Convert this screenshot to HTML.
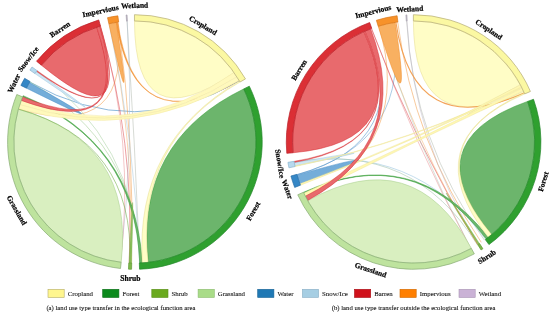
<!DOCTYPE html>
<html><head><meta charset="utf-8"><style>
html,body{margin:0;padding:0;background:#fff;}
body{width:550px;height:314px;overflow:hidden;position:relative;}
svg{position:absolute;left:0;top:0;filter:blur(0.3px);}
.lb{font-family:"Liberation Serif",serif;font-weight:bold;fill:#000;stroke:#000;stroke-width:0.22px;}
.lg{font-family:"Liberation Serif",serif;font-size:6.8px;fill:#111;stroke:#111;stroke-width:0.08px;}
.cap{font-family:"Liberation Serif",serif;font-size:6.7px;fill:#111;stroke:#111;stroke-width:0.08px;}
</style></head><body>
<svg width="550" height="314" viewBox="0 0 550 314">
<path d="M116.18,22.46A121.0,121.0 0 0 1 117.85,22.21Q134.90,142.00 239.10,80.50A121.0,121.0 0 0 1 239.26,80.77Q134.90,142.00 116.18,22.46Z" fill="#F5A04A" fill-opacity="1.0" stroke="#F08A25" stroke-width="0.4"/>
<path d="M29.80,82.05Q134.90,142.00 239.32,80.86" fill="none" stroke="#4A8FC8" stroke-width="0.7" stroke-opacity="0.9"/>
<path d="M118.06,22.18Q134.90,142.00 131.31,262.95" fill="none" stroke="#F08A25" stroke-width="0.5" stroke-opacity="0.9"/>
<path d="M100.13,26.10Q134.90,142.00 129.20,262.87" fill="none" stroke="#D42B31" stroke-width="0.5" stroke-opacity="0.9"/>
<path d="M127.09,21.25Q134.90,142.00 139.76,262.90" fill="none" stroke="#B4BCB0" stroke-width="0.6" stroke-opacity="0.9"/>
<path d="M116.39,22.42Q134.90,142.00 18.47,109.05" fill="none" stroke="#F08A25" stroke-width="0.5" stroke-opacity="0.9"/>
<path d="M36.88,71.05Q134.90,142.00 140.18,262.88" fill="none" stroke="#A8D0A0" stroke-width="0.6" stroke-opacity="0.9"/>
<path d="M29.90,81.87Q134.90,142.00 140.81,262.86" fill="none" stroke="#9FCB90" stroke-width="0.6" stroke-opacity="0.9"/>
<path d="M109.33,23.73Q134.90,142.00 130.26,262.91" fill="none" stroke="#F08A25" stroke-width="0.5" stroke-opacity="0.7"/>
<path d="M100.33,26.04Q134.90,142.00 120.57,262.15" fill="none" stroke="#D42B31" stroke-width="0.45" stroke-opacity="0.6"/>
<path d="M127.20,21.25Q134.90,142.00 120.36,262.12" fill="none" stroke="#A9B8C8" stroke-width="0.5" stroke-opacity="0.9"/>
<path d="M109.12,23.78Q134.90,142.00 139.54,262.91" fill="none" stroke="#9CC0D8" stroke-width="0.5" stroke-opacity="0.9"/>
<path d="M142.29,262.77A121.0,121.0 0 0 1 139.76,262.90Q134.90,142.00 22.67,96.77A121.0,121.0 0 0 1 23.11,95.70Q134.90,142.00 142.29,262.77Z" fill="#6CB56C" fill-opacity="1.0" stroke="#2E9A2E" stroke-width="0.5"/>
<path d="M134.48,21.00A121.0,121.0 0 0 1 234.02,72.60Q134.90,142.00 134.48,21.00Z" fill="#FFFDC6" fill-opacity="1.0" stroke="#E4DA8C" stroke-width="0.5"/>
<path d="M243.65,88.96A121.0,121.0 0 0 1 148.39,262.25Q134.90,142.00 243.65,88.96Z" fill="#6CB56C" fill-opacity="1.0" stroke="#2E9A2E" stroke-width="0.5"/>
<path d="M121.20,262.22A121.0,121.0 0 0 1 18.41,109.26Q134.90,142.00 121.20,262.22Z" fill="#D9EFC0" fill-opacity="1.0" stroke="#A4CC8A" stroke-width="0.5"/>
<path d="M41.40,65.20A121.0,121.0 0 0 1 96.71,27.19Q134.90,142.00 41.40,65.20Z" fill="#E86A6D" fill-opacity="1.0" stroke="#D42B31" stroke-width="0.5"/>
<path d="M26.52,88.20A121.0,121.0 0 0 1 29.48,82.60Q134.90,142.00 26.52,88.20Z" fill="#74ADD9" fill-opacity="1.0" stroke="#4A8FC8" stroke-width="0.5"/>
<path d="M35.06,73.64A121.0,121.0 0 0 1 36.51,71.56Q134.90,142.00 35.06,73.64Z" fill="#CFE6F3" fill-opacity="1.0" stroke="#A2CBE3" stroke-width="0.5"/>
<path d="M108.92,23.82A121.0,121.0 0 0 1 116.18,22.46Q134.90,142.00 108.92,23.82Z" fill="#F8B061" fill-opacity="1.0" stroke="#F08A25" stroke-width="0.5"/>
<path d="M239.48,81.13A121.0,121.0 0 0 1 240.00,82.05Q134.90,142.00 147.97,262.29A121.0,121.0 0 0 1 142.29,262.77Q134.90,142.00 239.48,81.13Z" fill="#FFFDC6" fill-opacity="1.0" stroke="#E4DA8C" stroke-width="0.5"/>
<path d="M234.02,72.60A121.0,121.0 0 0 1 236.84,76.81Q134.90,142.00 19.82,104.61A121.0,121.0 0 0 1 21.27,100.42Q134.90,142.00 234.02,72.60Z" fill="#FFF9BC" fill-opacity="1.0" stroke="#F2E9A6" stroke-width="0.5"/>
<path d="M236.95,76.99A121.0,121.0 0 0 1 239.05,80.41Q134.90,142.00 18.53,108.85A121.0,121.0 0 0 1 19.82,104.61Q134.90,142.00 236.95,76.99Z" fill="#FFF9BC" fill-opacity="1.0" stroke="#F2E9A6" stroke-width="0.5"/>
<path d="M96.71,27.19A121.0,121.0 0 0 1 99.73,26.23Q134.90,142.00 21.27,100.42A121.0,121.0 0 0 1 22.59,96.97Q134.90,142.00 96.71,27.19Z" fill="#E86A6D" fill-opacity="1.0" stroke="#D42B31" stroke-width="0.5"/>
<path d="M99.73,26.23A121.0,121.0 0 0 1 100.53,25.98Q134.90,142.00 36.64,71.39A121.0,121.0 0 0 1 37.13,70.71Q134.90,142.00 99.73,26.23Z" fill="#E86A6D" fill-opacity="1.0" stroke="#D42B31" stroke-width="0.4"/>
<path d="M131.63,262.96A121.0,121.0 0 0 1 129.09,262.86Q134.90,142.00 131.63,262.96Z" fill="#8DC060" fill-opacity="1.0" stroke="#6AA83A" stroke-width="0.3"/>
<path d="M129.83,262.89Q134.90,142.00 18.47,109.05" fill="none" stroke="#6AA83A" stroke-width="0.6" stroke-opacity="0.9"/>
<path d="M134.46,14.70A127.3,127.3 0 0 1 245.48,78.93L240.09,82.00A121.1,121.1 0 0 0 134.48,20.90Z" fill="#FBF8A2" stroke="#B3AB76" stroke-width="0.7"/>
<path d="M249.32,86.20A127.3,127.3 0 0 1 139.56,269.21L139.34,263.02A121.1,121.1 0 0 0 243.74,88.91Z" fill="#2FA02F" stroke="#23862A" stroke-width="0.7"/>
<path d="M131.57,269.26A127.3,127.3 0 0 1 128.46,269.14L128.77,262.94A121.1,121.1 0 0 0 131.73,263.06Z" fill="#7DB84A" stroke="#5E9A36" stroke-width="0.7"/>
<path d="M120.49,268.48A127.3,127.3 0 0 1 16.79,94.52L22.54,96.83A121.1,121.1 0 0 0 121.19,262.32Z" fill="#BEE39E" stroke="#86AA72" stroke-width="0.7"/>
<path d="M20.88,85.40A127.3,127.3 0 0 1 24.65,78.35L30.02,81.45A121.1,121.1 0 0 0 26.43,88.15Z" fill="#3587C6" stroke="#2A6FA6" stroke-width="0.7"/>
<path d="M29.86,70.08A127.3,127.3 0 0 1 32.04,67.00L37.05,70.65A121.1,121.1 0 0 0 34.98,73.58Z" fill="#B7D9EE" stroke="#8CB5CF" stroke-width="0.7"/>
<path d="M36.53,61.20A127.3,127.3 0 0 1 98.74,19.94L100.51,25.89A121.1,121.1 0 0 0 41.32,65.13Z" fill="#DB2F35" stroke="#B92028" stroke-width="0.7"/>
<path d="M107.56,17.67A127.3,127.3 0 0 1 117.84,15.85L118.67,21.99A121.1,121.1 0 0 0 108.90,23.72Z" fill="#F7922A" stroke="#D9771A" stroke-width="0.7"/>
<path d="M126.13,15.00A127.3,127.3 0 0 1 127.02,14.94L127.40,21.13A121.1,121.1 0 0 0 126.56,21.19Z" fill="#C4BECB" stroke="#A6A0AE" stroke-width="0.7"/>
<path d="M397.70,22.05Q413.60,142.00 481.26,242.31" fill="none" stroke="#F08A25" stroke-width="0.5" stroke-opacity="0.9"/>
<path d="M371.42,28.59Q413.60,142.00 477.72,244.61" fill="none" stroke="#D42B31" stroke-width="0.5" stroke-opacity="0.9"/>
<path d="M406.63,21.20Q413.60,142.00 484.38,240.14" fill="none" stroke="#B4BCB0" stroke-width="0.6" stroke-opacity="0.9"/>
<path d="M406.95,21.18Q413.60,142.00 478.61,244.05" fill="none" stroke="#B8B0C0" stroke-width="0.5" stroke-opacity="0.9"/>
<path d="M297.11,174.74Q413.60,142.00 369.25,29.42" fill="none" stroke="#4A8FC8" stroke-width="0.6" stroke-opacity="0.9"/>
<path d="M297.06,174.54Q413.60,142.00 392.59,22.84" fill="none" stroke="#4A8FC8" stroke-width="0.5" stroke-opacity="0.9"/>
<path d="M294.37,162.60Q413.60,142.00 485.57,239.27" fill="none" stroke="#A2CBE3" stroke-width="0.7" stroke-opacity="0.9"/>
<path d="M294.26,161.97Q413.60,142.00 477.36,244.84" fill="none" stroke="#9FBFA8" stroke-width="0.6" stroke-opacity="0.9"/>
<path d="M479.41,243.54A121.0,121.0 0 0 1 477.81,244.56Q413.60,142.00 479.41,243.54Z" fill="#8DC060" fill-opacity="1.0" stroke="#6AA83A" stroke-width="0.3"/>
<path d="M378.83,26.10Q413.60,142.00 307.06,199.36" fill="none" stroke="#F08A25" stroke-width="0.6" stroke-opacity="0.8"/>
<path d="M379.23,25.98Q413.60,142.00 477.72,244.61" fill="none" stroke="#F08A25" stroke-width="0.5" stroke-opacity="0.7"/>
<path d="M379.64,25.86Q413.60,142.00 470.96,248.54" fill="none" stroke="#A9C4B0" stroke-width="0.5" stroke-opacity="0.9"/>
<path d="M371.62,28.52Q413.60,142.00 470.78,248.64" fill="none" stroke="#D42B31" stroke-width="0.45" stroke-opacity="0.6"/>
<path d="M413.39,21.00A121.0,121.0 0 0 1 520.24,84.82Q413.60,142.00 523.44,91.25A121.0,121.0 0 0 1 524.14,92.78Q413.60,142.00 413.39,21.00Z" fill="#FFFDC6" fill-opacity="1.0" stroke="#E4DA8C" stroke-width="0.5"/>
<path d="M488.26,237.22A121.0,121.0 0 0 1 486.08,238.89Q413.60,142.00 303.85,192.95A121.0,121.0 0 0 1 303.54,192.27Q413.60,142.00 488.26,237.22Z" fill="#6CB56C" fill-opacity="1.0" stroke="#2E9A2E" stroke-width="0.5"/>
<path d="M527.59,101.41A121.0,121.0 0 0 1 491.54,234.56Q413.60,142.00 527.59,101.41Z" fill="#6CB56C" fill-opacity="1.0" stroke="#2E9A2E" stroke-width="0.5"/>
<path d="M471.34,248.34A121.0,121.0 0 0 1 307.77,200.66Q413.60,142.00 471.34,248.34Z" fill="#D9EFC0" fill-opacity="1.0" stroke="#A4CC8A" stroke-width="0.5"/>
<path d="M293.08,152.76A121.0,121.0 0 0 1 363.81,31.72Q413.60,142.00 293.08,152.76Z" fill="#E86A6D" fill-opacity="1.0" stroke="#D42B31" stroke-width="0.5"/>
<path d="M300.04,183.78A121.0,121.0 0 0 1 297.17,174.95Q413.60,142.00 300.04,183.78Z" fill="#74ADD9" fill-opacity="1.0" stroke="#4A8FC8" stroke-width="0.5"/>
<path d="M294.99,165.92A121.0,121.0 0 0 1 294.40,162.80Q413.60,142.00 294.99,165.92Z" fill="#CFE6F3" fill-opacity="1.0" stroke="#A2CBE3" stroke-width="0.5"/>
<path d="M378.22,26.29A121.0,121.0 0 0 1 395.09,22.42Q413.60,142.00 378.22,26.29Z" fill="#F8B061" fill-opacity="1.0" stroke="#F08A25" stroke-width="0.5"/>
<path d="M395.92,22.30Q413.60,142.00 524.22,92.98" fill="none" stroke="#F29A48" stroke-width="1.1" stroke-opacity="0.9"/>
<path d="M521.98,88.20A121.0,121.0 0 0 1 523.26,90.86Q413.60,142.00 305.41,196.18A121.0,121.0 0 0 1 303.94,193.14Q413.60,142.00 521.98,88.20Z" fill="#FFF8B2" fill-opacity="1.0" stroke="#EFE49A" stroke-width="0.5"/>
<path d="M521.41,87.07A121.0,121.0 0 0 1 521.89,88.01Q413.60,142.00 295.11,166.54A121.0,121.0 0 0 1 294.99,165.92Q413.60,142.00 521.41,87.07Z" fill="#FFF8B2" fill-opacity="1.0" stroke="#EFE49A" stroke-width="0.5"/>
<path d="M520.34,85.01A121.0,121.0 0 0 1 521.32,86.88Q413.60,142.00 300.56,185.17A121.0,121.0 0 0 1 300.04,183.78Q413.60,142.00 520.34,85.01Z" fill="#FFF8B2" fill-opacity="1.0" stroke="#EFE49A" stroke-width="0.5"/>
<path d="M524.31,93.17A121.0,121.0 0 0 1 524.65,93.95Q413.60,142.00 491.54,234.56A121.0,121.0 0 0 1 488.26,237.22Q413.60,142.00 524.31,93.17Z" fill="#FFFDC6" fill-opacity="1.0" stroke="#E4DA8C" stroke-width="0.5"/>
<path d="M364.96,31.20A121.0,121.0 0 0 1 370.63,28.89Q413.60,142.00 307.67,200.48A121.0,121.0 0 0 1 305.41,196.18Q413.60,142.00 364.96,31.20Z" fill="#E86A6D" fill-opacity="1.0" stroke="#D42B31" stroke-width="0.5"/>
<path d="M363.90,31.68A121.0,121.0 0 0 1 364.77,31.29Q413.60,142.00 294.33,162.39A121.0,121.0 0 0 1 294.16,161.35Q413.60,142.00 363.90,31.68Z" fill="#E86A6D" fill-opacity="1.0" stroke="#D42B31" stroke-width="0.4"/>
<path d="M413.38,14.70A127.3,127.3 0 0 1 530.43,91.44L524.74,93.91A121.1,121.1 0 0 0 413.39,20.90Z" fill="#FBF8A2" stroke="#B3AB76" stroke-width="0.7"/>
<path d="M533.52,99.30A127.3,127.3 0 0 1 488.96,244.59L485.29,239.60A121.1,121.1 0 0 0 527.68,101.38Z" fill="#2FA02F" stroke="#23862A" stroke-width="0.7"/>
<path d="M482.93,248.76A127.3,127.3 0 0 1 481.06,249.96L477.77,244.70A121.1,121.1 0 0 0 479.56,243.56Z" fill="#7DB84A" stroke="#5E9A36" stroke-width="0.7"/>
<path d="M474.34,253.87A127.3,127.3 0 0 1 297.76,194.79L303.40,192.22A121.1,121.1 0 0 0 471.38,248.42Z" fill="#BEE39E" stroke="#86AA72" stroke-width="0.7"/>
<path d="M294.68,187.41A127.3,127.3 0 0 1 290.93,176.02L296.90,174.36A121.1,121.1 0 0 0 300.47,185.20Z" fill="#3587C6" stroke="#2A6FA6" stroke-width="0.7"/>
<path d="M288.94,167.81A127.3,127.3 0 0 1 287.94,162.35L294.06,161.36A121.1,121.1 0 0 0 295.02,166.56Z" fill="#B7D9EE" stroke="#8CB5CF" stroke-width="0.7"/>
<path d="M286.80,153.32A127.3,127.3 0 0 1 369.64,22.53L371.78,28.35A121.1,121.1 0 0 0 292.98,152.77Z" fill="#DB2F35" stroke="#B92028" stroke-width="0.7"/>
<path d="M376.38,20.26A127.3,127.3 0 0 1 397.09,15.77L397.90,21.92A121.1,121.1 0 0 0 378.19,26.19Z" fill="#F7922A" stroke="#D9771A" stroke-width="0.7"/>
<path d="M405.94,14.93A127.3,127.3 0 0 1 406.83,14.88L407.16,21.07A121.1,121.1 0 0 0 406.31,21.12Z" fill="#C4BECB" stroke="#A6A0AE" stroke-width="0.7"/>
<text x="203.06" y="25.36" transform="rotate(30.30 203.06 25.36)" text-anchor="middle" dominant-baseline="central" class="lb" font-size="7.5">Cropland</text>
<text x="253.27" y="211.17" transform="rotate(-59.70 253.27 211.17)" text-anchor="middle" dominant-baseline="central" class="lb" font-size="7.5">Forest</text>
<text x="130.34" y="278.11" transform="rotate(0.00 130.34 278.11)" text-anchor="middle" dominant-baseline="central" class="lb" font-size="7.5">Shrub</text>
<text x="16.77" y="210.20" transform="rotate(60.00 16.77 210.20)" text-anchor="middle" dominant-baseline="central" class="lb" font-size="7.5">Grassland</text>
<text x="13.83" y="83.51" transform="rotate(-64.00 13.83 83.51)" text-anchor="middle" dominant-baseline="central" class="lb" font-size="7.5">Water</text>
<text x="28.15" y="59.20" transform="rotate(-52.00 28.15 59.20)" text-anchor="middle" dominant-baseline="central" class="lb" font-size="7.5">Snow/Ice</text>
<text x="59.98" y="29.45" transform="rotate(-33.65 59.98 29.45)" text-anchor="middle" dominant-baseline="central" class="lb" font-size="7.5">Barren</text>
<text x="100.54" y="11.03" transform="rotate(-12.00 100.54 11.03)" text-anchor="middle" dominant-baseline="central" class="lb" font-size="7.5">Impervious</text>
<text x="134.66" y="5.50" transform="rotate(-2.00 134.66 5.50)" text-anchor="middle" dominant-baseline="central" class="lb" font-size="7.5">Wetland</text>
<text x="488.92" y="29.48" transform="rotate(33.80 488.92 29.48)" text-anchor="middle" dominant-baseline="central" class="lb" font-size="7.5">Cropland</text>
<text x="543.27" y="181.65" transform="rotate(-73.00 543.27 181.65)" text-anchor="middle" dominant-baseline="central" class="lb" font-size="7.5">Forest</text>
<text x="486.81" y="256.70" transform="rotate(-32.30 486.81 256.70)" text-anchor="middle" dominant-baseline="central" class="lb" font-size="7.5">Shrub</text>
<text x="370.54" y="269.95" transform="rotate(18.60 370.54 269.95)" text-anchor="middle" dominant-baseline="central" class="lb" font-size="7.5">Grassland</text>
<text x="287.42" y="189.38" transform="rotate(69.80 287.42 189.38)" text-anchor="middle" dominant-baseline="central" class="lb" font-size="7.5">Water</text>
<text x="279.88" y="163.67" transform="rotate(81.00 279.88 163.67)" text-anchor="middle" dominant-baseline="central" class="lb" font-size="7.5">Snow/Ice</text>
<text x="299.07" y="69.93" transform="rotate(-58.00 299.07 69.93)" text-anchor="middle" dominant-baseline="central" class="lb" font-size="7.5">Barren</text>
<text x="373.21" y="11.51" transform="rotate(-14.00 373.21 11.51)" text-anchor="middle" dominant-baseline="central" class="lb" font-size="7.5">Impervious</text>
<text x="409.79" y="8.97" transform="rotate(-3.00 409.79 8.97)" text-anchor="middle" dominant-baseline="central" class="lb" font-size="7.5">Wetland</text>
<rect x="48.0" y="289.3" width="16.2" height="8.2" fill="#FFF68F" stroke="#B5AD6B" stroke-width="0.6"/>
<text x="67.7" y="295.6" class="lg">Cropland</text>
<rect x="102.7" y="289.3" width="16.2" height="8.2" fill="#0B8A1C" stroke="#0A6E16" stroke-width="0.6"/>
<text x="122.4" y="295.6" class="lg">Forest</text>
<rect x="151.8" y="289.3" width="16.2" height="8.2" fill="#6AAA1E" stroke="#5A9018" stroke-width="0.6"/>
<text x="171.5" y="295.6" class="lg">Shrub</text>
<rect x="198.1" y="289.3" width="16.2" height="8.2" fill="#A9DC88" stroke="#8CBC70" stroke-width="0.6"/>
<text x="217.8" y="295.6" class="lg">Grassland</text>
<rect x="257.7" y="289.3" width="16.2" height="8.2" fill="#1F78B4" stroke="#1A6496" stroke-width="0.6"/>
<text x="277.4" y="295.6" class="lg">Water</text>
<rect x="302.4" y="289.3" width="16.2" height="8.2" fill="#A6CEE3" stroke="#8AB0C6" stroke-width="0.6"/>
<text x="322.1" y="295.6" class="lg">Snow/Ice</text>
<rect x="354.5" y="289.3" width="16.2" height="8.2" fill="#D0111B" stroke="#A80E15" stroke-width="0.6"/>
<text x="374.2" y="295.6" class="lg">Barren</text>
<rect x="400.0" y="289.3" width="16.2" height="8.2" fill="#FF7F00" stroke="#D06A00" stroke-width="0.6"/>
<text x="419.7" y="295.6" class="lg">Impervious</text>
<rect x="459.0" y="289.3" width="16.2" height="8.2" fill="#CAB2D6" stroke="#A894B4" stroke-width="0.6"/>
<text x="478.7" y="295.6" class="lg">Wetland</text>
<text x="46.4" y="309.8" class="cap">(a) land use type transfer in the ecological function area</text>
<text x="331.8" y="309.8" class="cap">(b) land use type transfer outside the ecological function area</text>
</svg>
</body></html>
